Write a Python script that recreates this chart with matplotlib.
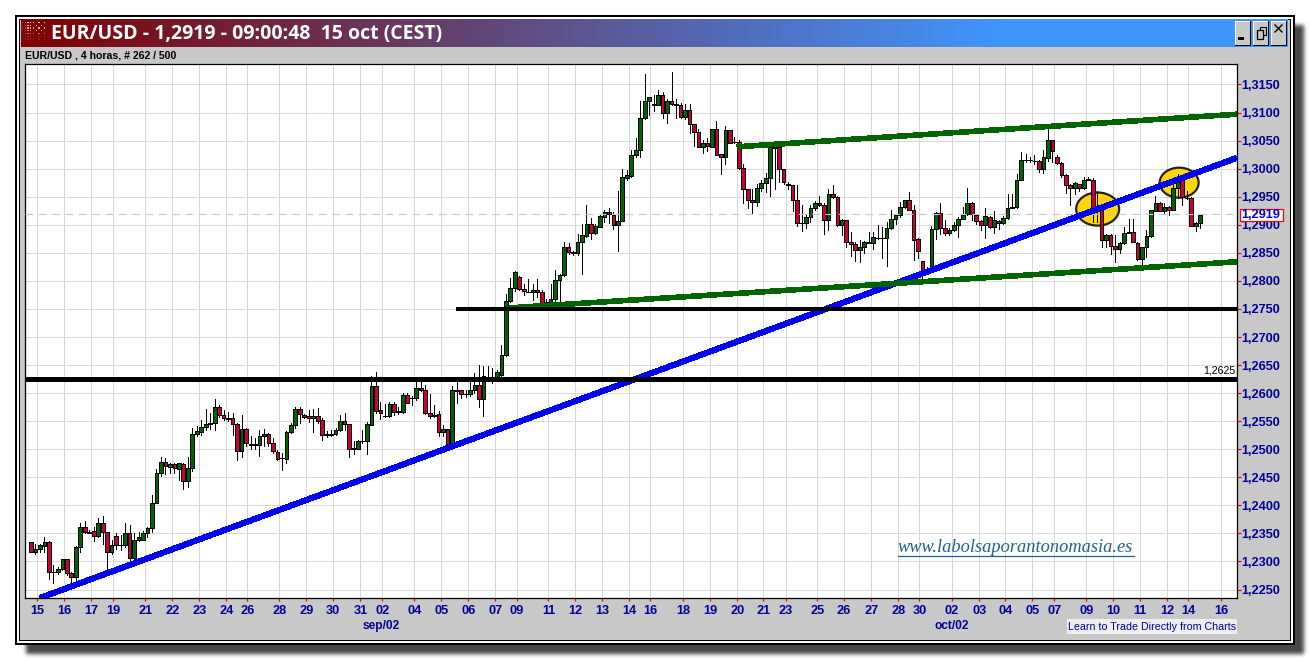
import numpy as np
import matplotlib
matplotlib.use('Agg')
import matplotlib.pyplot as plt
from matplotlib.patches import Rectangle, Ellipse

# velas de 4 horas, precios en decimas de pip (12334 = 1,2334)
apertura = [
    12334, 12317, 12323, 12328, 12334, 12282, 12282, 12286, 12304, 12279,
    12273, 12325, 12361, 12352, 12354, 12345, 12368, 12352, 12317, 12346,
    12330, 12330, 12350, 12307, 12338, 12339, 12350, 12359, 12405, 12457,
    12477, 12468, 12473, 12465, 12473, 12443, 12466, 12527, 12531, 12539,
    12546, 12546, 12576, 12561, 12555, 12555, 12545, 12496, 12536, 12509,
    12509, 12508, 12523, 12527, 12512, 12495, 12485, 12483, 12530, 12544,
    12572, 12561, 12559, 12555, 12560, 12552, 12527, 12527, 12527, 12534,
    12550, 12545, 12501, 12501, 12515, 12514, 12544, 12613, 12570, 12560,
    12560, 12581, 12568, 12567, 12596, 12592, 12592, 12609, 12605, 12564,
    12561, 12563, 12530, 12536, 12510, 12605, 12605, 12599, 12598, 12605,
    12615, 12589, 12629, 12628, 12627, 12632, 12668, 12764, 12788, 12807,
    12785, 12781, 12781, 12784, 12781, 12762, 12762, 12768, 12801, 12810,
    12861, 12851, 12850, 12870, 12880, 12901, 12886, 12896, 12914, 12923,
    12917, 12900, 12907, 12984, 12987, 13024, 13034, 13091, 13120, 13115,
    13114, 13131, 13100, 13120, 13115, 13114, 13092, 13104, 13079, 13066,
    13039, 13046, 13039, 13070, 13027, 13021, 13068, 13048, 13048, 13002,
    12964, 12945, 12941, 12965, 12975, 12984, 13038, 13038, 13000, 12973,
    12971, 12944, 12904, 12904, 12913, 12929, 12939, 12936, 12908, 12954,
    12950, 12899, 12909, 12870, 12866, 12855, 12860, 12869, 12868, 12877,
    12877, 12877, 12894, 12910, 12917, 12932, 12945, 12927, 12875, 12835,
    12822, 12823, 12893, 12921, 12895, 12885, 12891, 12899, 12911, 12919,
    12939, 12917, 12907, 12899, 12914, 12896, 12907, 12904, 12912, 12931,
    12931, 12980, 13016, 13016, 13014, 13014, 12999, 13019, 13051, 13020,
    13010, 12988, 12971, 12965, 12973, 12965, 12981, 12980, 12928, 12927,
    12873, 12882, 12863, 12857, 12868, 12887, 12887, 12868, 12839, 12860,
    12880, 12925, 12939, 12925, 12932, 12927, 12966, 12980, 12948, 12948,
    12897, 12904,
]
maximo = [
    12335, 12331, 12332, 12343, 12337, 12293, 12290, 12305, 12304, 12282,
    12327, 12368, 12372, 12356, 12362, 12377, 12381, 12352, 12338, 12350,
    12347, 12368, 12365, 12350, 12353, 12355, 12362, 12418, 12465, 12486,
    12484, 12476, 12475, 12476, 12475, 12486, 12537, 12542, 12552, 12571,
    12564, 12590, 12579, 12570, 12566, 12564, 12546, 12561, 12537, 12524,
    12520, 12535, 12536, 12529, 12520, 12499, 12493, 12533, 12546, 12575,
    12575, 12563, 12570, 12571, 12573, 12555, 12533, 12535, 12538, 12561,
    12564, 12545, 12515, 12517, 12535, 12549, 12630, 12638, 12585, 12581,
    12585, 12585, 12576, 12600, 12600, 12594, 12621, 12621, 12615, 12598,
    12579, 12568, 12543, 12536, 12612, 12621, 12606, 12606, 12621, 12635,
    12651, 12648, 12649, 12645, 12642, 12685, 12776, 12805, 12817, 12809,
    12794, 12803, 12794, 12803, 12783, 12768, 12794, 12819, 12813, 12869,
    12867, 12854, 12883, 12902, 12936, 12912, 12902, 12917, 12927, 12929,
    12923, 12961, 13000, 12997, 13033, 13054, 13120, 13168, 13128, 13132,
    13140, 13137, 13125, 13172, 13125, 13117, 13116, 13115, 13080, 13071,
    13051, 13054, 13071, 13085, 13027, 13076, 13068, 13057, 13051, 13008,
    12964, 12964, 12973, 12979, 12992, 13042, 13045, 13045, 13000, 12976,
    12971, 12971, 12935, 12920, 12936, 12943, 12952, 12938, 12963, 12970,
    12952, 12911, 12909, 12888, 12869, 12872, 12871, 12887, 12887, 12899,
    12896, 12905, 12927, 12920, 12941, 12945, 12959, 12935, 12877, 12836,
    12824, 12897, 12923, 12938, 12908, 12895, 12905, 12914, 12932, 12966,
    12940, 12918, 12908, 12929, 12916, 12924, 12909, 12915, 12955, 12954,
    12991, 13030, 13027, 13021, 13024, 13016, 13034, 13070, 13051, 13024,
    13012, 12991, 12972, 12976, 12973, 12985, 12985, 12984, 12960, 12929,
    12884, 12884, 12881, 12869, 12896, 12911, 12911, 12869, 12861, 12890,
    12926, 12951, 12940, 12938, 12933, 12982, 12991, 12985, 12961, 12949,
    12905, 12920,
]
minimo = [
    12316, 12314, 12317, 12317, 12268, 12262, 12277, 12285, 12276, 12258,
    12256, 12317, 12350, 12350, 12337, 12343, 12332, 12286, 12313, 12323,
    12320, 12326, 12296, 12299, 12337, 12338, 12344, 12353, 12404, 12453,
    12456, 12458, 12458, 12446, 12430, 12433, 12462, 12523, 12525, 12534,
    12536, 12534, 12558, 12552, 12551, 12525, 12480, 12487, 12505, 12500,
    12500, 12488, 12506, 12505, 12493, 12480, 12463, 12476, 12529, 12538,
    12546, 12556, 12548, 12531, 12546, 12517, 12521, 12523, 12526, 12533,
    12535, 12486, 12492, 12500, 12511, 12492, 12544, 12564, 12554, 12558,
    12558, 12561, 12563, 12564, 12582, 12579, 12588, 12603, 12563, 12555,
    12558, 12523, 12524, 12506, 12508, 12583, 12591, 12593, 12594, 12600,
    12575, 12560, 12625, 12618, 12624, 12627, 12667, 12762, 12782, 12783,
    12774, 12780, 12766, 12772, 12756, 12758, 12760, 12765, 12765, 12808,
    12848, 12847, 12846, 12813, 12878, 12875, 12884, 12896, 12905, 12903,
    12893, 12853, 12906, 12979, 12986, 13021, 13021, 13089, 13095, 13102,
    13113, 13090, 13082, 13113, 13091, 13091, 13089, 13064, 13040, 13038,
    13028, 13032, 13038, 13024, 12991, 13009, 13045, 13045, 13000, 12938,
    12929, 12919, 12934, 12960, 12958, 12952, 12963, 12977, 12973, 12963,
    12924, 12897, 12889, 12894, 12905, 12926, 12933, 12883, 12890, 12948,
    12897, 12881, 12861, 12844, 12836, 12833, 12849, 12867, 12857, 12875,
    12841, 12826, 12893, 12902, 12914, 12930, 12926, 12838, 12841, 12802,
    12813, 12822, 12875, 12884, 12881, 12881, 12889, 12878, 12910, 12917,
    12908, 12902, 12891, 12877, 12894, 12885, 12893, 12901, 12911, 12929,
    12930, 12979, 13012, 13012, 13009, 12994, 12993, 13014, 13012, 13009,
    12985, 12957, 12935, 12955, 12961, 12964, 12979, 12905, 12905, 12860,
    12860, 12848, 12833, 12849, 12866, 12886, 12869, 12838, 12828, 12843,
    12878, 12924, 12924, 12921, 12918, 12926, 12948, 12935, 12946, 12897,
    12889, 12895,
]
cierre = [
    12317, 12323, 12329, 12334, 12282, 12281, 12287, 12304, 12279, 12273,
    12325, 12361, 12352, 12351, 12345, 12368, 12352, 12317, 12329, 12329,
    12329, 12350, 12307, 12339, 12343, 12350, 12359, 12405, 12457, 12477,
    12470, 12473, 12466, 12475, 12443, 12466, 12527, 12532, 12539, 12545,
    12545, 12575, 12561, 12555, 12554, 12545, 12496, 12536, 12511, 12508,
    12508, 12523, 12527, 12512, 12496, 12483, 12484, 12531, 12543, 12572,
    12562, 12558, 12555, 12559, 12551, 12526, 12526, 12526, 12535, 12551,
    12545, 12501, 12503, 12515, 12514, 12545, 12613, 12569, 12565, 12559,
    12581, 12567, 12567, 12596, 12583, 12591, 12609, 12605, 12564, 12560,
    12560, 12530, 12536, 12510, 12605, 12604, 12598, 12598, 12605, 12615,
    12589, 12630, 12628, 12627, 12638, 12668, 12765, 12788, 12815, 12785,
    12782, 12780, 12784, 12781, 12758, 12759, 12768, 12801, 12810, 12861,
    12851, 12850, 12870, 12881, 12901, 12886, 12897, 12915, 12923, 12919,
    12900, 12907, 12986, 12988, 13025, 13034, 13091, 13120, 13128, 13114,
    13131, 13100, 13120, 13116, 13114, 13092, 13104, 13079, 13066, 13039,
    13046, 13041, 13070, 13024, 13021, 13068, 13046, 13047, 13002, 12964,
    12945, 12941, 12966, 12975, 12984, 13038, 13037, 13000, 12976, 12971,
    12944, 12904, 12903, 12913, 12929, 12938, 12936, 12908, 12954, 12950,
    12899, 12909, 12870, 12866, 12855, 12860, 12870, 12868, 12879, 12876,
    12876, 12895, 12911, 12917, 12932, 12945, 12927, 12873, 12854, 12817,
    12821, 12893, 12921, 12895, 12885, 12891, 12900, 12911, 12917, 12939,
    12919, 12907, 12899, 12916, 12896, 12908, 12904, 12912, 12930, 12930,
    12980, 13016, 13015, 13015, 13013, 12999, 13020, 13051, 13032, 13010,
    12988, 12971, 12966, 12974, 12966, 12980, 12980, 12929, 12925, 12873,
    12882, 12863, 12857, 12868, 12886, 12886, 12870, 12839, 12860, 12880,
    12926, 12939, 12925, 12932, 12926, 12966, 12977, 12949, 12947, 12897,
    12904, 12917,
]

# eje x: posicion en numero de vela y etiqueta del dia
dias_pos = [
    1.4, 7.43, 13.46, 18.37, 25.51, 31.54, 37.57, 43.6, 48.28, 55.42,
    61.45, 67.48, 73.5, 78.4, 85.6, 91.6, 97.6, 103.6, 108.4, 115.5,
    121.5, 127.5, 133.5, 138.2, 145.6, 151.6, 157.7, 163.5, 168.5, 175.5,
    181.5, 187.6, 193.6, 198.3, 205.6, 211.7, 217.5, 223.5, 228.4, 235.6,
    241.6, 247.6, 253.6, 258.3, 265.7,
]
dias_txt = [
    '15', '16', '17', '19', '21', '22', '23', '24', '26', '28',
    '29', '30', '31', '02', '04', '05', '06', '07', '09', '11',
    '12', '13', '14', '16', '18', '19', '20', '21', '23', '25',
    '26', '27', '28', '30', '02', '03', '04', '05', '07', '09',
    '10', '11', '12', '14', '16',
]
precios_eje = [1.2250 + 0.005 * i for i in range(19)]
precios_txt = [f'{p:.4f}'.replace('.', ',') for p in precios_eje]

# lineas dibujadas a mano sobre el grafico (vela, precio)
azul_x, azul_y = [2, 269.1], [1.2235, 1.3019]
verde_sup_x, verde_sup_y = [157.6, 269.1], [1.3039, 1.3097]
verde_inf_x, verde_inf_y = [106.9, 269.1], [1.2752, 1.2834]
negra_1275_x, negra_1275_y = [94.9, 269.1], [1.2750, 1.2750]
negra_1262_x, negra_1262_y = [-1.45, 269.1], [1.2625, 1.2625]
ultimo_precio = 1.2919

VERDE = '#006400'
ROJO = '#CC0033'
AZUL_TXT = '#000099'
GRIS = '#C8C8C8'
UN_PX = 0.7  # un pixel justo a 100 dpi, sin suavizado

fig = plt.figure(figsize=(13.1, 6.6), dpi=100, facecolor='white')


def capa(zorder):
    # ejes en pixeles, para el marco de la ventana
    a = fig.add_axes([0, 0, 1, 1], zorder=zorder)
    a.set_xlim(0, 1310)
    a.set_ylim(660, 0)
    a.axis('off')
    a.patch.set_alpha(0)
    return a


fondo = capa(0)

# sombra de la ventana
sombra = np.zeros((660, 1310))
sombra[25:654, 26:1304] = 1.0
nucleo = np.ones(5) / 5
for _ in range(2):
    sombra = np.apply_along_axis(lambda f: np.convolve(f, nucleo, mode='same'), 0, sombra)
    sombra = np.apply_along_axis(lambda f: np.convolve(f, nucleo, mode='same'), 1, sombra)
fondo.imshow(1 - 0.72 * sombra, cmap='gray', vmin=0, vmax=1, extent=(0, 1310, 660, 0), aspect='auto', zorder=0)

# marco
fondo.add_patch(Rectangle((15, 15), 1280, 630, fc='black', ec='none', zorder=1))
fondo.add_patch(Rectangle((17, 17), 1276, 626, fc='white', ec='none', zorder=1))
fondo.add_patch(Rectangle((19, 19), 1272, 622, fc='black', ec='none', zorder=1))
fondo.add_patch(Rectangle((20, 20), 1270, 620, fc=GRIS, ec='none', zorder=1))

# barra de titulo con degradado
t = np.clip(np.arange(1267) / 985, 0, 1)
rojo_ini, azul_fin = np.array([128, 0, 0]) / 255, np.array([64, 150, 255]) / 255
degradado = (rojo_ini[None, :] * (1 - t[:, None]) + azul_fin[None, :] * t[:, None])[None, :, :]
fondo.imshow(degradado, extent=(21, 1288, 47.5, 20), aspect='auto', zorder=2)
fondo.set_xlim(0, 1310)
fondo.set_ylim(660, 0)

# icono punteado
for i in range(9):
    for j in range(9):
        if (i + j) % 2 == 0 or i < 4:
            fondo.add_patch(Rectangle((22 + i * 2.7, 22 + j * 2.7), 1.3, 1.3, zorder=3, ec='none',
                                      fc='white' if j < 5 and i > 1 else '#A06060',
                                      alpha=max(0.15, 0.85 - 0.09 * j)))

fondo.text(51, 33.5, 'EUR/USD - 1,2919 - 09:00:48  15 oct (CEST)', color='white', fontsize=14,
           family='Open Sans', weight='bold', va='center', ha='left', zorder=3)
fondo.text(25, 56, 'EUR/USD , 4 horas, # 262 / 500', color='black', fontsize=7.6,
           family='Liberation Sans', weight='bold', va='center', ha='left', zorder=3)

# botones de la ventana
for xb in [1235, 1253, 1271]:
    fondo.add_patch(Rectangle((xb, 21), 16, 25, fc='black', ec='none', zorder=3))
    fondo.add_patch(Rectangle((xb, 21), 15, 24, fc='white', ec='none', zorder=3))
    fondo.add_patch(Rectangle((xb + 1, 22), 14, 23, fc=GRIS, ec='none', zorder=3))
fondo.add_patch(Rectangle((1238, 37), 6, 2.5, fc='black', ec='none', zorder=4))
fondo.add_patch(Rectangle((1259.5, 27), 6, 8, fc='none', ec='black', lw=0.8, zorder=4))
fondo.add_patch(Rectangle((1256.5, 30), 6, 9, fc=GRIS, ec='black', lw=0.9, zorder=4))
fondo.plot([1275, 1282], [25, 32], color='black', lw=1.0, zorder=4)
fondo.plot([1282, 1275], [25, 32], color='black', lw=1.0, zorder=4)

# grafico principal
ax = fig.add_axes([24.5 / 1310, 62 / 660, 1212 / 1310, 534 / 660], zorder=1)
ax.set_xlim(-1.45, 269.1)
ax.set_ylim(1.22349, 1.31865)
ax.set_facecolor('white')
for lado in ax.spines.values():
    lado.set_color('black')
    lado.set_linewidth(0.9)

ax.grid(True, color='#D8D8D8', lw=0.72, zorder=0, antialiased=False)
ax.set_axisbelow(True)

velas = np.arange(len(apertura))
o = np.array(apertura) / 10000
h = np.array(maximo) / 10000
l = np.array(minimo) / 10000
c = np.array(cierre) / 10000
colores = [VERDE if ci >= oi else ROJO for oi, ci in zip(o, c)]

ax.add_patch(Ellipse((238.1, 1.2928), 9.6, 0.0059, fc='#FFD60A', ec='#222222', lw=1.6, zorder=1.5))
ax.add_patch(Ellipse((256.3, 1.2975), 8.7, 0.00535, fc='#FFD60A', ec='#222222', lw=1.6, zorder=1.5))

ax.vlines(velas, l, h, color='black', lw=UN_PX, zorder=2, antialiased=False)
ax.bar(velas, np.abs(c - o), bottom=np.minimum(o, c), width=0.82, color=colores, edgecolor='black',
       linewidth=UN_PX, zorder=2.5, antialiased=False)

ax.axhline(ultimo_precio, color='#C8C8C8', lw=0.8, ls=(0, (7, 5)), zorder=3)

ax.plot(azul_x, azul_y, color='#0000F0', lw=3.6, solid_capstyle='butt', zorder=4, antialiased=False)
ax.plot(verde_sup_x, verde_sup_y, color=VERDE, lw=3.3, solid_capstyle='butt', zorder=5, antialiased=False)
ax.plot(verde_inf_x, verde_inf_y, color=VERDE, lw=3.3, solid_capstyle='butt', zorder=5, antialiased=False)
ax.plot(negra_1275_x, negra_1275_y, color='black', lw=2.9, solid_capstyle='butt', zorder=6)
ax.plot(negra_1262_x, negra_1262_y, color='black', lw=3.6, solid_capstyle='butt', zorder=6)
ax.annotate('1,2625', xy=(269.1, 1.2625), xytext=(-1, 2.5), textcoords='offset points', ha='right', va='bottom',
            fontsize=7.6, family='Liberation Sans', color='black', zorder=7)

ax.yaxis.tick_right()
ax.set_yticks(precios_eje, precios_txt)
ax.set_xticks(dias_pos, dias_txt)
ax.tick_params(axis='y', colors='red', length=3, width=0.9, pad=0.6, labelcolor=AZUL_TXT, labelsize=9.2)
ax.tick_params(axis='x', colors='red', length=1.8, width=0.9, pad=3.2, labelcolor=AZUL_TXT, labelsize=9.2)
for et in ax.get_xticklabels() + ax.get_yticklabels():
    et.set_family('Liberation Sans')
    et.set_weight('bold')

# textos y cajas por encima de los ejes
tapa = capa(2)
tapa.add_patch(Rectangle((1239.5, 208.5), 43, 12, fc='white', ec='red', lw=0.9))
tapa.text(1261, 214.8, '1,2919', color='#0000E0', fontsize=9.2, family='Liberation Sans', weight='bold',
          ha='center', va='center')
tapa.text(381.5, 626, 'sep/02', color=AZUL_TXT, fontsize=8.6, family='Liberation Sans', weight='bold',
          ha='center', va='center')
tapa.text(952, 626, 'oct/02', color=AZUL_TXT, fontsize=8.6, family='Liberation Sans', weight='bold',
          ha='center', va='center')
tapa.add_patch(Rectangle((1066.5, 619), 170.5, 15, fc='#EEEEEE', ec='none'))
tapa.text(1236, 627, 'Learn to Trade Directly from Charts', color=AZUL_TXT, fontsize=7.7,
          family='Liberation Sans', ha='right', va='center')
tapa.text(898, 548, 'www.labolsaporantonomasia.es', color='#1F6090', fontsize=13.2, family='Liberation Serif',
          style='italic', ha='left', va='center')
tapa.plot([898, 1134], [556, 556], color='#1F6090', lw=0.9)

fig.savefig('out.png', dpi=100)
